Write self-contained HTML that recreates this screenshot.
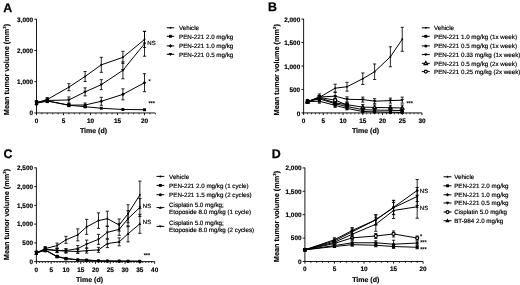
<!DOCTYPE html>
<html><head><meta charset="utf-8"><title>Figure</title>
<style>html,body{margin:0;padding:0;background:#fff}svg{display:block}text{text-rendering:geometricPrecision;font-family:"Liberation Sans",Arial,sans-serif;fill:#000;stroke:#000;stroke-width:0.18px}.b text{font-weight:bold;stroke-width:0.15px}text.L{font-weight:bold;stroke-width:0.25px}</style></head><body>
<svg width="520" height="285" viewBox="0 0 520 285">
<rect width="520" height="285" fill="#fff"/>
<g stroke="#000" stroke-width="0.9" fill="none">
<path d="M36.5 18.9V113.3"/>
<path d="M36.15 112.95H155.3"/>
<path d="M34.3 112.95H36.5"/>
<path d="M34.3 81.7H36.5"/>
<path d="M34.3 50.45H36.5"/>
<path d="M34.3 19.2H36.5"/>
<path d="M36.5 112.95V115.15"/>
<path d="M63.5 112.95V115.15"/>
<path d="M90.5 112.95V115.15"/>
<path d="M117.5 112.95V115.15"/>
<path d="M144.5 112.95V115.15"/>
<path d="M41.9 112.95V114.35M47.3 112.95V114.35M52.7 112.95V114.35M58.1 112.95V114.35M68.9 112.95V114.35M74.3 112.95V114.35M79.7 112.95V114.35M85.1 112.95V114.35M95.9 112.95V114.35M101.3 112.95V114.35M106.7 112.95V114.35M112.1 112.95V114.35M122.9 112.95V114.35M128.3 112.95V114.35M133.7 112.95V114.35M139.1 112.95V114.35M149.9 112.95V114.35M155.3 112.95V114.35" stroke-width="0.8"/>
</g>
<g class="b" font-size="6.4">
<text x="33.1" y="115.25" text-anchor="end">0</text>
<text x="33.1" y="84" text-anchor="end">1,000</text>
<text x="33.1" y="52.75" text-anchor="end">2,000</text>
<text x="33.1" y="21.5" text-anchor="end">3,000</text>
<text x="36.5" y="122.85" text-anchor="middle">0</text>
<text x="63.5" y="122.85" text-anchor="middle">5</text>
<text x="90.5" y="122.85" text-anchor="middle">10</text>
<text x="117.5" y="122.85" text-anchor="middle">15</text>
<text x="144.5" y="122.85" text-anchor="middle">20</text>
<text x="93.5" y="133.25" text-anchor="middle" font-size="7">Time (d)</text>
<text transform="translate(9 69.5) rotate(-90)" text-anchor="middle" font-size="7.3">Mean tumor volume (mm<tspan font-size="4.4" dy="-2.8">3</tspan><tspan dy="2.8">)</tspan></text>
</g>
<text x="3.3" y="11.5" class="L" font-size="12.4">A</text>
<g stroke="#000" stroke-width="1.0" fill="none">
<polyline points="36.5,102.64 47.3,99.51 68.9,87.17 85.1,76.48 101.3,64.83 122.9,57.33 144.5,39.51"/>
<path stroke-width="0.85" d="M36.5 100.64V104.64M34.9 100.64H38.1M34.9 104.64H38.1"/>
<path stroke-width="0.85" d="M47.3 97.51V101.51M45.7 97.51H48.9M45.7 101.51H48.9"/>
<path stroke-width="0.85" d="M68.9 83.67V90.67M67.3 83.67H70.5M67.3 90.67H70.5"/>
<path stroke-width="0.85" d="M85.1 71.48V81.48M83.5 71.48H86.7M83.5 81.48H86.7"/>
<path stroke-width="0.85" d="M101.3 57.33V72.33M99.7 57.33H102.9M99.7 72.33H102.9"/>
<path stroke-width="0.85" d="M122.9 51.33V63.33M121.3 51.33H124.5M121.3 63.33H124.5"/>
<path stroke-width="0.85" d="M144.5 31.51V47.51M142.9 31.51H146.1M142.9 47.51H146.1"/>
</g>
<circle cx="36.5" cy="102.64" r="1" fill="#000"/>
<circle cx="47.3" cy="99.51" r="1" fill="#000"/>
<circle cx="68.9" cy="87.17" r="1" fill="#000"/>
<circle cx="85.1" cy="76.48" r="1" fill="#000"/>
<circle cx="101.3" cy="64.83" r="1" fill="#000"/>
<circle cx="122.9" cy="57.33" r="1" fill="#000"/>
<circle cx="144.5" cy="39.51" r="1" fill="#000"/>
<g stroke="#000" stroke-width="1.0" fill="none">
<polyline points="36.5,102.64 47.3,100.45 68.9,99.98 85.1,91.86 101.3,84.67 122.9,70.29 144.5,43.73"/>
<path stroke-width="0.85" d="M36.5 100.64V104.64M34.9 100.64H38.1M34.9 104.64H38.1"/>
<path stroke-width="0.85" d="M47.3 98.45V102.45M45.7 98.45H48.9M45.7 102.45H48.9"/>
<path stroke-width="0.85" d="M68.9 96.98V102.98M67.3 96.98H70.5M67.3 102.98H70.5"/>
<path stroke-width="0.85" d="M85.1 87.86V95.86M83.5 87.86H86.7M83.5 95.86H86.7"/>
<path stroke-width="0.85" d="M101.3 79.67V89.67M99.7 79.67H102.9M99.7 89.67H102.9"/>
<path stroke-width="0.85" d="M122.9 61.79V78.79M121.3 61.79H124.5M121.3 78.79H124.5"/>
<path stroke-width="0.85" d="M144.5 31.23V56.23M142.9 31.23H146.1M142.9 56.23H146.1"/>
</g>
<path d="M34.7 101.44L38.3 101.44L36.5 104.34Z" fill="#000"/>
<path d="M45.5 99.25L49.1 99.25L47.3 102.15Z" fill="#000"/>
<path d="M67.1 98.78L70.7 98.78L68.9 101.68Z" fill="#000"/>
<path d="M83.3 90.66L86.9 90.66L85.1 93.56Z" fill="#000"/>
<path d="M99.5 83.47L103.1 83.47L101.3 86.37Z" fill="#000"/>
<path d="M121.1 69.09L124.7 69.09L122.9 71.99Z" fill="#000"/>
<path d="M142.7 42.53L146.3 42.53L144.5 45.43Z" fill="#000"/>
<g stroke="#000" stroke-width="1.0" fill="none">
<polyline points="36.5,102.95 47.3,100.76 68.9,105.14 85.1,105.01 101.3,101.29 122.9,94.36 144.5,82.7"/>
<path stroke-width="0.85" d="M36.5 101.45V104.45M34.9 101.45H38.1M34.9 104.45H38.1"/>
<path stroke-width="0.85" d="M47.3 99.26V102.26M45.7 99.26H48.9M45.7 102.26H48.9"/>
<path stroke-width="0.85" d="M68.9 103.64V106.64M67.3 103.64H70.5M67.3 106.64H70.5"/>
<path stroke-width="0.85" d="M85.1 103.01V107.01M83.5 103.01H86.7M83.5 107.01H86.7"/>
<path stroke-width="0.85" d="M101.3 97.29V105.29M99.7 97.29H102.9M99.7 105.29H102.9"/>
<path stroke-width="0.85" d="M122.9 88.86V99.86M121.3 88.86H124.5M121.3 99.86H124.5"/>
<path stroke-width="0.85" d="M144.5 73.7V91.7M142.9 73.7H146.1M142.9 91.7H146.1"/>
</g>
<path d="M36.5 101.15L38.3 102.95L36.5 104.75L34.7 102.95Z" fill="#000"/>
<path d="M47.3 98.96L49.1 100.76L47.3 102.56L45.5 100.76Z" fill="#000"/>
<path d="M68.9 103.34L70.7 105.14L68.9 106.94L67.1 105.14Z" fill="#000"/>
<path d="M85.1 103.21L86.9 105.01L85.1 106.81L83.3 105.01Z" fill="#000"/>
<path d="M101.3 99.49L103.1 101.29L101.3 103.09L99.5 101.29Z" fill="#000"/>
<path d="M122.9 92.56L124.7 94.36L122.9 96.16L121.1 94.36Z" fill="#000"/>
<path d="M144.5 80.9L146.3 82.7L144.5 84.5L142.7 82.7Z" fill="#000"/>
<g stroke="#000" stroke-width="1.0" fill="none">
<polyline points="36.5,103.26 47.3,101.08 68.9,105.26 85.1,106.7 101.3,108.26 122.9,109.48 144.5,109.73"/>
<path stroke-width="0.85" d="M36.5 101.76V104.76M34.9 101.76H38.1M34.9 104.76H38.1"/>
<path stroke-width="0.85" d="M47.3 99.58V102.58M45.7 99.58H48.9M45.7 102.58H48.9"/>
<path stroke-width="0.85" d="M68.9 104.26V106.26M67.3 104.26H70.5M67.3 106.26H70.5"/>
<path stroke-width="0.85" d="M85.1 105.7V107.7M83.5 105.7H86.7M83.5 107.7H86.7"/>
</g>
<rect x="35.05" y="101.81" width="2.9" height="2.9" fill="#000"/>
<rect x="45.85" y="99.62" width="2.9" height="2.9" fill="#000"/>
<rect x="67.45" y="103.81" width="2.9" height="2.9" fill="#000"/>
<rect x="83.65" y="105.25" width="2.9" height="2.9" fill="#000"/>
<rect x="99.85" y="106.81" width="2.9" height="2.9" fill="#000"/>
<rect x="121.45" y="108.03" width="2.9" height="2.9" fill="#000"/>
<rect x="143.05" y="108.28" width="2.9" height="2.9" fill="#000"/>
<path d="M166.7 27.8H174.2" stroke="#000" stroke-width="1.0"/>
<circle cx="170.45" cy="27.8" r="1" fill="#000"/>
<text x="179" y="30" font-size="6.22">Vehicle</text>
<path d="M166.7 36.3H174.2" stroke="#000" stroke-width="1.0"/>
<rect x="169" y="34.85" width="2.9" height="2.9" fill="#000"/>
<text x="179" y="38.5" font-size="6.22">PEN-221 2.0 mg/kg</text>
<path d="M166.7 45.9H174.2" stroke="#000" stroke-width="1.0"/>
<path d="M170.45 44.1L172.25 45.9L170.45 47.7L168.65 45.9Z" fill="#000"/>
<text x="179" y="48.1" font-size="6.22">PEN-221 1.0 mg/kg</text>
<path d="M166.7 54.3H174.2" stroke="#000" stroke-width="1.0"/>
<path d="M168.65 53.1L172.25 53.1L170.45 56Z" fill="#000"/>
<text x="179" y="56.5" font-size="6.22">PEN-221 0.5 mg/kg</text>
<text x="147.3" y="44.8" font-size="6">NS</text>
<text x="148.5" y="83" font-size="5.5">*</text>
<text x="148.4" y="104.8" font-size="5.5">***</text>
<g stroke="#000" stroke-width="0.9" fill="none">
<path d="M303.6 18.8V113.25"/>
<path d="M303.25 112.9H421.95"/>
<path d="M301.4 112.9H303.6"/>
<path d="M301.4 89.45H303.6"/>
<path d="M301.4 66H303.6"/>
<path d="M301.4 42.55H303.6"/>
<path d="M301.4 19.1H303.6"/>
<path d="M303.6 112.9V115.1"/>
<path d="M323.33 112.9V115.1"/>
<path d="M343.05 112.9V115.1"/>
<path d="M362.78 112.9V115.1"/>
<path d="M382.5 112.9V115.1"/>
<path d="M402.23 112.9V115.1"/>
<path d="M421.95 112.9V115.1"/>
<path d="M307.55 112.9V114.3M311.49 112.9V114.3M315.44 112.9V114.3M319.38 112.9V114.3M327.27 112.9V114.3M331.22 112.9V114.3M335.16 112.9V114.3M339.11 112.9V114.3M347 112.9V114.3M350.94 112.9V114.3M354.88 112.9V114.3M358.83 112.9V114.3M366.72 112.9V114.3M370.67 112.9V114.3M374.61 112.9V114.3M378.56 112.9V114.3M386.45 112.9V114.3M390.39 112.9V114.3M394.34 112.9V114.3M398.28 112.9V114.3M406.17 112.9V114.3M410.12 112.9V114.3M414.06 112.9V114.3M418 112.9V114.3" stroke-width="0.8"/>
</g>
<g class="b" font-size="6.4">
<text x="300.2" y="115.5" text-anchor="end">0</text>
<text x="300.2" y="92.05" text-anchor="end">500</text>
<text x="300.2" y="68.6" text-anchor="end">1,000</text>
<text x="300.2" y="45.15" text-anchor="end">1,500</text>
<text x="300.2" y="21.7" text-anchor="end">2,000</text>
<text x="303.6" y="122.8" text-anchor="middle">0</text>
<text x="323.33" y="122.8" text-anchor="middle">5</text>
<text x="343.05" y="122.8" text-anchor="middle">10</text>
<text x="362.78" y="122.8" text-anchor="middle">15</text>
<text x="382.5" y="122.8" text-anchor="middle">20</text>
<text x="402.23" y="122.8" text-anchor="middle">25</text>
<text x="421.95" y="122.8" text-anchor="middle">30</text>
<text x="365.5" y="133.2" text-anchor="middle" font-size="7">Time (d)</text>
<text transform="translate(279 69.8) rotate(-90)" text-anchor="middle" font-size="7.3">Mean tumor volume (mm<tspan font-size="4.4" dy="-2.8">3</tspan><tspan dy="2.8">)</tspan></text>
</g>
<text x="268.1" y="11.2" class="L" font-size="12.4">B</text>
<g stroke="#000" stroke-width="1.0" fill="none">
<polyline points="307.55,101.64 319.38,97.42 335.16,88.18 347,86.73 362.78,78.71 374.61,71.72 390.39,56.76 402.23,39.31"/>
<path stroke-width="0.85" d="M307.55 100.14V103.14M305.94 100.14H309.15M305.94 103.14H309.15"/>
<path stroke-width="0.85" d="M319.38 95.42V99.42M317.78 95.42H320.98M317.78 99.42H320.98"/>
<path stroke-width="0.85" d="M335.16 84.18V92.18M333.56 84.18H336.76M333.56 92.18H336.76"/>
<path stroke-width="0.85" d="M347 82.33V91.13M345.39 82.33H348.6M345.39 91.13H348.6"/>
<path stroke-width="0.85" d="M362.78 72.96V84.46M361.18 72.96H364.38M361.18 84.46H364.38"/>
<path stroke-width="0.85" d="M374.61 63.97V79.47M373.01 63.97H376.21M373.01 79.47H376.21"/>
<path stroke-width="0.85" d="M390.39 46.76V66.76M388.79 46.76H391.99M388.79 66.76H391.99"/>
<path stroke-width="0.85" d="M402.23 27.31V51.31M400.62 27.31H403.83M400.62 51.31H403.83"/>
</g>
<circle cx="307.55" cy="101.64" r="1" fill="#000"/>
<circle cx="319.38" cy="97.42" r="1" fill="#000"/>
<circle cx="335.16" cy="88.18" r="1" fill="#000"/>
<circle cx="347" cy="86.73" r="1" fill="#000"/>
<circle cx="362.78" cy="78.71" r="1" fill="#000"/>
<circle cx="374.61" cy="71.72" r="1" fill="#000"/>
<circle cx="390.39" cy="56.76" r="1" fill="#000"/>
<circle cx="402.23" cy="39.31" r="1" fill="#000"/>
<g stroke="#000" stroke-width="1.0" fill="none">
<polyline points="307.55,101.64 319.38,96.95 335.16,96.2 347,99.3 362.78,99.58 374.61,101.18 390.39,100.61 402.23,100.14"/>
<path stroke-width="0.85" d="M307.55 100.14V103.14M305.94 100.14H309.15M305.94 103.14H309.15"/>
<path stroke-width="0.85" d="M319.38 93.95V99.95M317.78 93.95H320.98M317.78 99.95H320.98"/>
<path stroke-width="0.85" d="M335.16 92.2V100.2M333.56 92.2H336.76M333.56 100.2H336.76"/>
<path stroke-width="0.85" d="M347 96.8V101.8M345.39 96.8H348.6M345.39 101.8H348.6"/>
<path stroke-width="0.85" d="M362.78 97.08V102.08M361.18 97.08H364.38M361.18 102.08H364.38"/>
<path stroke-width="0.85" d="M374.61 98.68V103.68M373.01 98.68H376.21M373.01 103.68H376.21"/>
<path stroke-width="0.85" d="M390.39 98.11V103.11M388.79 98.11H391.99M388.79 103.11H391.99"/>
<path stroke-width="0.85" d="M402.23 97.14V103.14M400.62 97.14H403.83M400.62 103.14H403.83"/>
</g>
<path d="M305.75 100.44L309.35 100.44L307.55 103.34Z" fill="#000"/>
<path d="M317.58 95.75L321.18 95.75L319.38 98.65Z" fill="#000"/>
<path d="M333.36 95L336.96 95L335.16 97.9Z" fill="#000"/>
<path d="M345.19 98.1L348.8 98.1L347 101Z" fill="#000"/>
<path d="M360.98 98.38L364.58 98.38L362.78 101.28Z" fill="#000"/>
<path d="M372.81 99.98L376.41 99.98L374.61 102.88Z" fill="#000"/>
<path d="M388.59 99.41L392.19 99.41L390.39 102.31Z" fill="#000"/>
<path d="M400.43 98.94L404.03 98.94L402.23 101.84Z" fill="#000"/>
<g stroke="#000" stroke-width="1.0" fill="none">
<polyline points="307.55,101.64 319.38,97.42 335.16,100.19 347,104.93"/>
<path stroke-width="0.85" d="M307.55 100.14V103.14M305.94 100.14H309.15M305.94 103.14H309.15"/>
<path stroke-width="0.85" d="M319.38 95.42V99.42M317.78 95.42H320.98M317.78 99.42H320.98"/>
<path stroke-width="0.85" d="M335.16 98.19V102.19M333.56 98.19H336.76M333.56 102.19H336.76"/>
<path stroke-width="0.85" d="M347 103.43V106.43M345.39 103.43H348.6M345.39 106.43H348.6"/>
</g>
<circle cx="307.55" cy="101.64" r="1.5" fill="#fff" stroke="#000" stroke-width="1.25"/>
<circle cx="319.38" cy="97.42" r="1.5" fill="#fff" stroke="#000" stroke-width="1.25"/>
<circle cx="335.16" cy="100.19" r="1.5" fill="#fff" stroke="#000" stroke-width="1.25"/>
<circle cx="347" cy="104.93" r="1.5" fill="#fff" stroke="#000" stroke-width="1.25"/>
<g stroke="#000" stroke-width="1.0" fill="none">
<polyline points="307.55,101.64 319.38,97.89 335.16,102.82 347,104.69 362.78,107.13 374.61,107.41 390.39,107.74 402.23,107.98"/>
<path stroke-width="0.85" d="M307.55 100.14V103.14M305.94 100.14H309.15M305.94 103.14H309.15"/>
<path stroke-width="0.85" d="M319.38 95.89V99.89M317.78 95.89H320.98M317.78 99.89H320.98"/>
<path stroke-width="0.85" d="M335.16 100.82V104.82M333.56 100.82H336.76M333.56 104.82H336.76"/>
<path stroke-width="0.85" d="M347 102.69V106.69M345.39 102.69H348.6M345.39 106.69H348.6"/>
<path stroke-width="0.85" d="M362.78 104.63V109.63M361.18 104.63H364.38M361.18 109.63H364.38"/>
<path stroke-width="0.85" d="M374.61 104.91V109.91M373.01 104.91H376.21M373.01 109.91H376.21"/>
<path stroke-width="0.85" d="M390.39 105.24V110.24M388.79 105.24H391.99M388.79 110.24H391.99"/>
<path stroke-width="0.85" d="M402.23 104.98V110.98M400.62 104.98H403.83M400.62 110.98H403.83"/>
</g>
<path d="M305.85 102.89L309.25 102.89L307.55 99.89Z" fill="#fff" stroke="#000" stroke-width="1.25" stroke-linejoin="miter"/>
<path d="M317.68 99.14L321.08 99.14L319.38 96.14Z" fill="#fff" stroke="#000" stroke-width="1.25" stroke-linejoin="miter"/>
<path d="M333.46 104.07L336.86 104.07L335.16 101.07Z" fill="#fff" stroke="#000" stroke-width="1.25" stroke-linejoin="miter"/>
<path d="M345.3 105.94L348.69 105.94L347 102.94Z" fill="#fff" stroke="#000" stroke-width="1.25" stroke-linejoin="miter"/>
<path d="M361.08 108.38L364.48 108.38L362.78 105.38Z" fill="#fff" stroke="#000" stroke-width="1.25" stroke-linejoin="miter"/>
<path d="M372.91 108.66L376.31 108.66L374.61 105.66Z" fill="#fff" stroke="#000" stroke-width="1.25" stroke-linejoin="miter"/>
<path d="M388.69 108.99L392.09 108.99L390.39 105.99Z" fill="#fff" stroke="#000" stroke-width="1.25" stroke-linejoin="miter"/>
<path d="M400.53 109.23L403.93 109.23L402.23 106.23Z" fill="#fff" stroke="#000" stroke-width="1.25" stroke-linejoin="miter"/>
<g stroke="#000" stroke-width="1.0" fill="none">
<polyline points="307.55,101.64 319.38,98.83 335.16,103.75 347,106.52 362.78,109.66 374.61,110.09 390.39,110.32 402.23,110.56"/>
<path stroke-width="0.85" d="M307.55 100.14V103.14M305.94 100.14H309.15M305.94 103.14H309.15"/>
<path stroke-width="0.85" d="M319.38 96.83V100.83M317.78 96.83H320.98M317.78 100.83H320.98"/>
<path stroke-width="0.85" d="M335.16 101.75V105.75M333.56 101.75H336.76M333.56 105.75H336.76"/>
<path stroke-width="0.85" d="M347 105.02V108.02M345.39 105.02H348.6M345.39 108.02H348.6"/>
<path stroke-width="0.85" d="M362.78 108.16V111.16M361.18 108.16H364.38M361.18 111.16H364.38"/>
<path stroke-width="0.85" d="M374.61 109.09V111.09M373.01 109.09H376.21M373.01 111.09H376.21"/>
<path stroke-width="0.85" d="M390.39 109.32V111.32M388.79 109.32H391.99M388.79 111.32H391.99"/>
<path stroke-width="0.85" d="M402.23 109.56V111.56M400.62 109.56H403.83M400.62 111.56H403.83"/>
</g>
<circle cx="307.55" cy="101.64" r="1.5" fill="#000"/>
<circle cx="319.38" cy="98.83" r="1.5" fill="#000"/>
<circle cx="335.16" cy="103.75" r="1.5" fill="#000"/>
<circle cx="347" cy="106.52" r="1.5" fill="#000"/>
<circle cx="362.78" cy="109.66" r="1.5" fill="#000"/>
<circle cx="374.61" cy="110.09" r="1.5" fill="#000"/>
<circle cx="390.39" cy="110.32" r="1.5" fill="#000"/>
<circle cx="402.23" cy="110.56" r="1.5" fill="#000"/>
<g stroke="#000" stroke-width="1.0" fill="none">
<polyline points="307.55,101.64 319.38,101.18 335.16,105.4 347,108.4 362.78,111.49 374.61,111.87 390.39,112.2 402.23,112.43"/>
<path stroke-width="0.85" d="M307.55 100.14V103.14M305.94 100.14H309.15M305.94 103.14H309.15"/>
<path stroke-width="0.85" d="M319.38 99.18V103.18M317.78 99.18H320.98M317.78 103.18H320.98"/>
<path stroke-width="0.85" d="M335.16 103.4V107.4M333.56 103.4H336.76M333.56 107.4H336.76"/>
<path stroke-width="0.85" d="M347 106.9V109.9M345.39 106.9H348.6M345.39 109.9H348.6"/>
<path stroke-width="0.85" d="M362.78 109.99V112.99M361.18 109.99H364.38M361.18 112.99H364.38"/>
<path stroke-width="0.85" d="M374.61 110.87V112.87M373.01 110.87H376.21M373.01 112.87H376.21"/>
<path stroke-width="0.85" d="M390.39 111.2V113.2M388.79 111.2H391.99M388.79 113.2H391.99"/>
<path stroke-width="0.85" d="M402.23 111.43V113.43M400.62 111.43H403.83M400.62 113.43H403.83"/>
</g>
<rect x="306.1" y="100.19" width="2.9" height="2.9" fill="#000"/>
<rect x="317.93" y="99.73" width="2.9" height="2.9" fill="#000"/>
<rect x="333.71" y="103.95" width="2.9" height="2.9" fill="#000"/>
<rect x="345.55" y="106.95" width="2.9" height="2.9" fill="#000"/>
<rect x="361.33" y="110.04" width="2.9" height="2.9" fill="#000"/>
<rect x="373.16" y="110.42" width="2.9" height="2.9" fill="#000"/>
<rect x="388.94" y="110.75" width="2.9" height="2.9" fill="#000"/>
<rect x="400.78" y="110.98" width="2.9" height="2.9" fill="#000"/>
<g stroke="#000" stroke-width="1.0" fill="none">
<polyline points="335.16,100.19"/>
</g>
<circle cx="335.16" cy="100.19" r="1.5" fill="#fff" stroke="#000" stroke-width="1.25"/>
<path d="M421.8 27.8H429.8" stroke="#000" stroke-width="1.0"/>
<circle cx="425.8" cy="27.8" r="1" fill="#000"/>
<text x="434" y="30" font-size="6.22">Vehicle</text>
<path d="M421.8 36.3H429.8" stroke="#000" stroke-width="1.0"/>
<rect x="424.35" y="34.85" width="2.9" height="2.9" fill="#000"/>
<text x="434" y="38.5" font-size="6.22">PEN-221 1.0 mg/kg (1x week)</text>
<path d="M421.8 45.9H429.8" stroke="#000" stroke-width="1.0"/>
<circle cx="425.8" cy="45.9" r="1.5" fill="#000"/>
<text x="434" y="48.1" font-size="6.22">PEN-221 0.5 mg/kg (1x week)</text>
<path d="M421.8 54.6H429.8" stroke="#000" stroke-width="1.0"/>
<path d="M424.18 53.52L427.42 53.52L425.8 56.13Z" fill="#000"/>
<text x="434" y="56.8" font-size="6.22">PEN-221 0.33 mg/kg (1x week)</text>
<path d="M421.8 63.3H429.8" stroke="#000" stroke-width="1.0"/>
<path d="M424.1 64.55L427.5 64.55L425.8 61.55Z" fill="#fff" stroke="#000" stroke-width="1.25" stroke-linejoin="miter"/>
<text x="434" y="65.5" font-size="6.22">PEN-221 0.5 mg/kg (2x week)</text>
<path d="M421.8 71.6H429.8" stroke="#000" stroke-width="1.0"/>
<circle cx="425.8" cy="71.6" r="1.5" fill="#fff" stroke="#000" stroke-width="1.25"/>
<text x="434" y="73.8" font-size="6.22">PEN-221 0.25 mg/kg (2x week)</text>
<text x="406.4" y="104.9" font-size="5.5">***</text>
<g stroke="#000" stroke-width="0.9" fill="none">
<path d="M36.4 167.55V261.95"/>
<path d="M36.05 261.6H154.64"/>
<path d="M34.2 261.6H36.4"/>
<path d="M34.2 242.85H36.4"/>
<path d="M34.2 224.1H36.4"/>
<path d="M34.2 205.35H36.4"/>
<path d="M34.2 186.6H36.4"/>
<path d="M34.2 167.85H36.4"/>
<path d="M36.4 261.6V263.8"/>
<path d="M51.18 261.6V263.8"/>
<path d="M65.96 261.6V263.8"/>
<path d="M80.74 261.6V263.8"/>
<path d="M95.52 261.6V263.8"/>
<path d="M110.3 261.6V263.8"/>
<path d="M125.08 261.6V263.8"/>
<path d="M139.86 261.6V263.8"/>
<path d="M154.64 261.6V263.8"/>
<path d="M39.36 261.6V263M42.31 261.6V263M45.27 261.6V263M48.22 261.6V263M54.14 261.6V263M57.09 261.6V263M60.05 261.6V263M63 261.6V263M68.92 261.6V263M71.87 261.6V263M74.83 261.6V263M77.78 261.6V263M83.7 261.6V263M86.65 261.6V263M89.61 261.6V263M92.56 261.6V263M98.48 261.6V263M101.43 261.6V263M104.39 261.6V263M107.34 261.6V263M113.26 261.6V263M116.21 261.6V263M119.17 261.6V263M122.12 261.6V263M128.04 261.6V263M130.99 261.6V263M133.95 261.6V263M136.9 261.6V263M142.82 261.6V263M145.77 261.6V263M148.73 261.6V263M151.68 261.6V263" stroke-width="0.8"/>
</g>
<g class="b" font-size="6.4">
<text x="33" y="263.9" text-anchor="end">0</text>
<text x="33" y="245.15" text-anchor="end">500</text>
<text x="33" y="226.4" text-anchor="end">1,000</text>
<text x="33" y="207.65" text-anchor="end">1,500</text>
<text x="33" y="188.9" text-anchor="end">2,000</text>
<text x="33" y="170.15" text-anchor="end">2,500</text>
<text x="36.4" y="271.5" text-anchor="middle">0</text>
<text x="51.18" y="271.5" text-anchor="middle">5</text>
<text x="65.96" y="271.5" text-anchor="middle">10</text>
<text x="80.74" y="271.5" text-anchor="middle">15</text>
<text x="95.52" y="271.5" text-anchor="middle">20</text>
<text x="110.3" y="271.5" text-anchor="middle">25</text>
<text x="125.08" y="271.5" text-anchor="middle">30</text>
<text x="139.86" y="271.5" text-anchor="middle">35</text>
<text x="154.64" y="271.5" text-anchor="middle">40</text>
<text x="89.5" y="281.9" text-anchor="middle" font-size="7">Time (d)</text>
<text transform="translate(9 214.5) rotate(-90)" text-anchor="middle" font-size="7.3">Mean tumor volume (mm<tspan font-size="4.4" dy="-2.8">3</tspan><tspan dy="2.8">)</tspan></text>
</g>
<text x="3.4" y="157.7" class="L" font-size="12.4">C</text>
<g stroke="#000" stroke-width="1.0" fill="none">
<polyline points="36.4,252.86 45.27,248.59 57.09,245.59 65.96,239.85 77.78,234.86 86.65,226.84 98.48,220.61 107.34,218.66 119.17,225.04 128.04,213.75 139.86,194.85"/>
<path stroke-width="0.85" d="M36.4 251.36V254.36M34.8 251.36H38M34.8 254.36H38"/>
<path stroke-width="0.85" d="M45.27 246.59V250.59M43.67 246.59H46.87M43.67 250.59H46.87"/>
<path stroke-width="0.85" d="M57.09 243.09V248.09M55.49 243.09H58.69M55.49 248.09H58.69"/>
<path stroke-width="0.85" d="M65.96 236.35V243.35M64.36 236.35H67.56M64.36 243.35H67.56"/>
<path stroke-width="0.85" d="M77.78 228.86V240.86M76.18 228.86H79.38M76.18 240.86H79.38"/>
<path stroke-width="0.85" d="M86.65 219.34V234.34M85.05 219.34H88.25M85.05 234.34H88.25"/>
<path stroke-width="0.85" d="M98.48 212.86V228.36M96.88 212.86H100.08M96.88 228.36H100.08"/>
<path stroke-width="0.85" d="M107.34 211.16V226.16M105.74 211.16H108.94M105.74 226.16H108.94"/>
<path stroke-width="0.85" d="M119.17 219.04V231.04M117.57 219.04H120.77M117.57 231.04H120.77"/>
<path stroke-width="0.85" d="M128.04 204.75V222.75M126.44 204.75H129.64M126.44 222.75H129.64"/>
<path stroke-width="0.85" d="M139.86 181.1V208.6M138.26 181.1H141.46M138.26 208.6H141.46"/>
</g>
<circle cx="36.4" cy="252.86" r="1" fill="#000"/>
<circle cx="45.27" cy="248.59" r="1" fill="#000"/>
<circle cx="57.09" cy="245.59" r="1" fill="#000"/>
<circle cx="65.96" cy="239.85" r="1" fill="#000"/>
<circle cx="77.78" cy="234.86" r="1" fill="#000"/>
<circle cx="86.65" cy="226.84" r="1" fill="#000"/>
<circle cx="98.48" cy="220.61" r="1" fill="#000"/>
<circle cx="107.34" cy="218.66" r="1" fill="#000"/>
<circle cx="119.17" cy="225.04" r="1" fill="#000"/>
<circle cx="128.04" cy="213.75" r="1" fill="#000"/>
<circle cx="139.86" cy="194.85" r="1" fill="#000"/>
<g stroke="#000" stroke-width="1.0" fill="none">
<polyline points="36.4,252.86 45.27,249.23 57.09,250.35 65.96,250.61 77.78,248.59 86.65,244.09 98.48,239.36 107.34,232.35 119.17,229.35 128.04,218.66 139.86,207.45"/>
<path stroke-width="0.85" d="M36.4 251.36V254.36M34.8 251.36H38M34.8 254.36H38"/>
<path stroke-width="0.85" d="M45.27 247.23V251.23M43.67 247.23H46.87M43.67 251.23H46.87"/>
<path stroke-width="0.85" d="M57.09 248.35V252.35M55.49 248.35H58.69M55.49 252.35H58.69"/>
<path stroke-width="0.85" d="M65.96 248.61V252.61M64.36 248.61H67.56M64.36 252.61H67.56"/>
<path stroke-width="0.85" d="M77.78 245.59V251.59M76.18 245.59H79.38M76.18 251.59H79.38"/>
<path stroke-width="0.85" d="M86.65 240.09V248.09M85.05 240.09H88.25M85.05 248.09H88.25"/>
<path stroke-width="0.85" d="M98.48 234.36V244.36M96.88 234.36H100.08M96.88 244.36H100.08"/>
<path stroke-width="0.85" d="M107.34 226.35V238.35M105.74 226.35H108.94M105.74 238.35H108.94"/>
<path stroke-width="0.85" d="M119.17 223.35V235.35M117.57 223.35H120.77M117.57 235.35H120.77"/>
<path stroke-width="0.85" d="M128.04 210.66V226.66M126.44 210.66H129.64M126.44 226.66H129.64"/>
<path stroke-width="0.85" d="M139.86 198.45V216.45M138.26 198.45H141.46M138.26 216.45H141.46"/>
</g>
<path d="M34.96 251.9L37.84 251.9L36.4 254.22Z" fill="#000"/>
<path d="M43.83 248.27L46.71 248.27L45.27 250.59Z" fill="#000"/>
<path d="M55.65 249.39L58.53 249.39L57.09 251.71Z" fill="#000"/>
<path d="M64.52 249.65L67.4 249.65L65.96 251.97Z" fill="#000"/>
<path d="M76.34 247.63L79.22 247.63L77.78 249.95Z" fill="#000"/>
<path d="M85.21 243.13L88.09 243.13L86.65 245.45Z" fill="#000"/>
<path d="M97.04 238.4L99.92 238.4L98.48 240.72Z" fill="#000"/>
<path d="M105.9 231.39L108.78 231.39L107.34 233.71Z" fill="#000"/>
<path d="M117.73 228.39L120.61 228.39L119.17 230.71Z" fill="#000"/>
<path d="M126.6 217.7L129.48 217.7L128.04 220.02Z" fill="#000"/>
<path d="M138.42 206.49L141.3 206.49L139.86 208.81Z" fill="#000"/>
<g stroke="#000" stroke-width="1.0" fill="none">
<polyline points="36.4,252.86 45.27,249.6 57.09,250.61 65.96,251.1 77.78,251.48 86.65,250.61 98.48,249.86 107.34,243.6 119.17,241.84 128.04,233.85 139.86,223.84"/>
<path stroke-width="0.85" d="M36.4 251.36V254.36M34.8 251.36H38M34.8 254.36H38"/>
<path stroke-width="0.85" d="M45.27 247.6V251.6M43.67 247.6H46.87M43.67 251.6H46.87"/>
<path stroke-width="0.85" d="M57.09 248.61V252.61M55.49 248.61H58.69M55.49 252.61H58.69"/>
<path stroke-width="0.85" d="M65.96 249.1V253.1M64.36 249.1H67.56M64.36 253.1H67.56"/>
<path stroke-width="0.85" d="M77.78 249.48V253.48M76.18 249.48H79.38M76.18 253.48H79.38"/>
<path stroke-width="0.85" d="M86.65 248.11V253.11M85.05 248.11H88.25M85.05 253.11H88.25"/>
<path stroke-width="0.85" d="M98.48 247.36V252.36M96.88 247.36H100.08M96.88 252.36H100.08"/>
<path stroke-width="0.85" d="M107.34 239.6V247.6M105.74 239.6H108.94M105.74 247.6H108.94"/>
<path stroke-width="0.85" d="M119.17 237.84V245.84M117.57 237.84H120.77M117.57 245.84H120.77"/>
<path stroke-width="0.85" d="M128.04 225.85V241.85M126.44 225.85H129.64M126.44 241.85H129.64"/>
<path stroke-width="0.85" d="M139.86 214.34V233.34M138.26 214.34H141.46M138.26 233.34H141.46"/>
</g>
<path d="M34.86 253.91L37.94 253.91L36.4 251.39Z" fill="#000"/>
<path d="M43.73 250.65L46.81 250.65L45.27 248.13Z" fill="#000"/>
<path d="M55.55 251.66L58.63 251.66L57.09 249.14Z" fill="#000"/>
<path d="M64.42 252.15L67.5 252.15L65.96 249.63Z" fill="#000"/>
<path d="M76.24 252.53L79.32 252.53L77.78 250.01Z" fill="#000"/>
<path d="M85.11 251.66L88.19 251.66L86.65 249.14Z" fill="#000"/>
<path d="M96.94 250.91L100.02 250.91L98.48 248.39Z" fill="#000"/>
<path d="M105.8 244.65L108.88 244.65L107.34 242.13Z" fill="#000"/>
<path d="M117.63 242.89L120.71 242.89L119.17 240.37Z" fill="#000"/>
<path d="M126.5 234.9L129.58 234.9L128.04 232.38Z" fill="#000"/>
<path d="M138.32 224.89L141.4 224.89L139.86 222.37Z" fill="#000"/>
<g stroke="#000" stroke-width="1.0" fill="none">
<polyline points="36.4,252.86 45.27,249.98 57.09,256.35 65.96,258.41 77.78,259.73 86.65,260.03 98.48,260.78 107.34,260.93 119.17,261.08 128.04,261.15 139.86,261.23"/>
<path stroke-width="0.85" d="M36.4 251.36V254.36M34.8 251.36H38M34.8 254.36H38"/>
<path stroke-width="0.85" d="M45.27 248.48V251.48M43.67 248.48H46.87M43.67 251.48H46.87"/>
<path stroke-width="0.85" d="M57.09 255.35V257.35M55.49 255.35H58.69M55.49 257.35H58.69"/>
<path stroke-width="0.85" d="M65.96 257.41V259.41M64.36 257.41H67.56M64.36 259.41H67.56"/>
</g>
<circle cx="36.4" cy="252.86" r="1.5" fill="#000"/>
<circle cx="45.27" cy="249.98" r="1.5" fill="#000"/>
<circle cx="57.09" cy="256.35" r="1.5" fill="#000"/>
<circle cx="65.96" cy="258.41" r="1.5" fill="#000"/>
<circle cx="77.78" cy="259.73" r="1.5" fill="#000"/>
<circle cx="86.65" cy="260.03" r="1.5" fill="#000"/>
<circle cx="98.48" cy="260.78" r="1.5" fill="#000"/>
<circle cx="107.34" cy="260.93" r="1.5" fill="#000"/>
<circle cx="119.17" cy="261.08" r="1.5" fill="#000"/>
<circle cx="128.04" cy="261.15" r="1.5" fill="#000"/>
<circle cx="139.86" cy="261.23" r="1.5" fill="#000"/>
<g stroke="#000" stroke-width="1.0" fill="none">
<polyline points="36.4,252.86 45.27,250.35 57.09,256.73 65.96,258.79 77.78,259.91 86.65,260.18 98.48,260.85 107.34,261.04 119.17,261.15 128.04,261.23 139.86,261.3"/>
<path stroke-width="0.85" d="M36.4 251.36V254.36M34.8 251.36H38M34.8 254.36H38"/>
<path stroke-width="0.85" d="M45.27 248.85V251.85M43.67 248.85H46.87M43.67 251.85H46.87"/>
<path stroke-width="0.85" d="M57.09 255.73V257.73M55.49 255.73H58.69M55.49 257.73H58.69"/>
<path stroke-width="0.85" d="M65.96 257.79V259.79M64.36 257.79H67.56M64.36 259.79H67.56"/>
</g>
<rect x="34.95" y="251.41" width="2.9" height="2.9" fill="#000"/>
<rect x="43.82" y="248.9" width="2.9" height="2.9" fill="#000"/>
<rect x="55.64" y="255.28" width="2.9" height="2.9" fill="#000"/>
<rect x="64.51" y="257.34" width="2.9" height="2.9" fill="#000"/>
<rect x="76.33" y="258.46" width="2.9" height="2.9" fill="#000"/>
<rect x="85.2" y="258.73" width="2.9" height="2.9" fill="#000"/>
<rect x="97.03" y="259.4" width="2.9" height="2.9" fill="#000"/>
<rect x="105.89" y="259.59" width="2.9" height="2.9" fill="#000"/>
<rect x="117.72" y="259.7" width="2.9" height="2.9" fill="#000"/>
<rect x="126.59" y="259.78" width="2.9" height="2.9" fill="#000"/>
<rect x="138.41" y="259.85" width="2.9" height="2.9" fill="#000"/>
<path d="M156.5 176.4H164.3" stroke="#000" stroke-width="1.0"/>
<circle cx="160.4" cy="176.4" r="1" fill="#000"/>
<text x="169.1" y="178.6" font-size="6.22">Vehicle</text>
<path d="M156.5 185.4H164.3" stroke="#000" stroke-width="1.0"/>
<rect x="158.95" y="183.95" width="2.9" height="2.9" fill="#000"/>
<text x="169.1" y="187.6" font-size="6.22">PEN-221 2.0 mg/kg (1 cycle)</text>
<path d="M156.5 194.7H164.3" stroke="#000" stroke-width="1.0"/>
<circle cx="160.4" cy="194.7" r="1.5" fill="#000"/>
<text x="169.1" y="196.9" font-size="6.22">PEN-221 1.5 mg/kg (2 cycles)</text>
<path d="M156.5 207.6H164.3" stroke="#000" stroke-width="1.0"/>
<path d="M158.86 208.65L161.94 208.65L160.4 206.13Z" fill="#000"/>
<text x="169.1" y="206.6" font-size="6.22">Cisplatin 5.0 mg/kg;</text>
<text x="169.1" y="213.7" font-size="6.22">Etoposide 8.0 mg/kg (1 cycle)</text>
<path d="M156.5 226.4H164.3" stroke="#000" stroke-width="1.0"/>
<path d="M158.96 225.44L161.84 225.44L160.4 227.76Z" fill="#000"/>
<text x="169.1" y="224.7" font-size="6.22">Cisplatin 5.0 mg/kg;</text>
<text x="169.1" y="231.5" font-size="6.22">Etoposide 8.0 mg/kg (2 cycles)</text>
<text x="142.8" y="207.8" font-size="6">NS</text>
<text x="142.8" y="224.2" font-size="6">NS</text>
<text x="143.7" y="256.5" font-size="5.5">***</text>
<g stroke="#000" stroke-width="0.9" fill="none">
<path d="M304.9 167.6V261.85"/>
<path d="M304.55 261.5H423.1"/>
<path d="M302.7 261.5H304.9"/>
<path d="M302.7 238.1H304.9"/>
<path d="M302.7 214.7H304.9"/>
<path d="M302.7 191.3H304.9"/>
<path d="M302.7 167.9H304.9"/>
<path d="M304.9 261.5V263.7"/>
<path d="M334.45 261.5V263.7"/>
<path d="M364 261.5V263.7"/>
<path d="M393.55 261.5V263.7"/>
<path d="M423.1 261.5V263.7"/>
<path d="M310.81 261.5V262.9M316.72 261.5V262.9M322.63 261.5V262.9M328.54 261.5V262.9M340.36 261.5V262.9M346.27 261.5V262.9M352.18 261.5V262.9M358.09 261.5V262.9M369.91 261.5V262.9M375.82 261.5V262.9M381.73 261.5V262.9M387.64 261.5V262.9M399.46 261.5V262.9M405.37 261.5V262.9M411.28 261.5V262.9M417.19 261.5V262.9" stroke-width="0.8"/>
</g>
<g class="b" font-size="6.4">
<text x="301.5" y="263.8" text-anchor="end">0</text>
<text x="301.5" y="240.4" text-anchor="end">500</text>
<text x="301.5" y="217" text-anchor="end">1,000</text>
<text x="301.5" y="193.6" text-anchor="end">1,500</text>
<text x="301.5" y="170.2" text-anchor="end">2,000</text>
<text x="304.9" y="270.8" text-anchor="middle">0</text>
<text x="334.45" y="270.8" text-anchor="middle">5</text>
<text x="364" y="270.8" text-anchor="middle">10</text>
<text x="393.55" y="270.8" text-anchor="middle">15</text>
<text x="423.1" y="270.8" text-anchor="middle">20</text>
<text x="365.7" y="281.8" text-anchor="middle" font-size="7">Time (d)</text>
<text transform="translate(278.8 216.5) rotate(-90)" text-anchor="middle" font-size="7.3">Mean tumor volume (mm<tspan font-size="4.4" dy="-2.8">3</tspan><tspan dy="2.8">)</tspan></text>
</g>
<text x="271.7" y="157.5" class="L" font-size="12.4">D</text>
<g stroke="#000" stroke-width="1.0" fill="none">
<polyline points="304.9,249.8 334.45,243.48 352.18,237.82 375.82,235.99 393.55,233.98 417.19,238.01"/>
<path stroke-width="0.85" d="M304.9 248.8V250.8M303.3 248.8H306.5M303.3 250.8H306.5"/>
<path stroke-width="0.85" d="M334.45 241.98V244.98M332.85 241.98H336.05M332.85 244.98H336.05"/>
<path stroke-width="0.85" d="M352.18 235.82V239.82M350.58 235.82H353.78M350.58 239.82H353.78"/>
<path stroke-width="0.85" d="M375.82 233.49V238.49M374.22 233.49H377.42M374.22 238.49H377.42"/>
<path stroke-width="0.85" d="M393.55 230.98V236.98M391.95 230.98H395.15M391.95 236.98H395.15"/>
<path stroke-width="0.85" d="M417.19 236.01V240.01M415.59 236.01H418.79M415.59 240.01H418.79"/>
</g>
<circle cx="304.9" cy="249.8" r="1.5" fill="#fff" stroke="#000" stroke-width="1.25"/>
<circle cx="334.45" cy="243.48" r="1.5" fill="#fff" stroke="#000" stroke-width="1.25"/>
<circle cx="352.18" cy="237.82" r="1.5" fill="#fff" stroke="#000" stroke-width="1.25"/>
<circle cx="375.82" cy="235.99" r="1.5" fill="#fff" stroke="#000" stroke-width="1.25"/>
<circle cx="393.55" cy="233.98" r="1.5" fill="#fff" stroke="#000" stroke-width="1.25"/>
<circle cx="417.19" cy="238.01" r="1.5" fill="#fff" stroke="#000" stroke-width="1.25"/>
<g stroke="#000" stroke-width="1.0" fill="none">
<polyline points="304.9,249.8 334.45,239.74 352.18,230.52 375.82,219.75 393.55,207.26 417.19,190.5"/>
<path stroke-width="0.85" d="M304.9 248.8V250.8M303.3 248.8H306.5M303.3 250.8H306.5"/>
<path stroke-width="0.85" d="M334.45 237.74V241.74M332.85 237.74H336.05M332.85 241.74H336.05"/>
<path stroke-width="0.85" d="M352.18 227.52V233.52M350.58 227.52H353.78M350.58 233.52H353.78"/>
<path stroke-width="0.85" d="M375.82 214.75V224.75M374.22 214.75H377.42M374.22 224.75H377.42"/>
<path stroke-width="0.85" d="M393.55 200.26V214.26M391.95 200.26H395.15M391.95 214.26H395.15"/>
<path stroke-width="0.85" d="M417.19 179.5V201.5M415.59 179.5H418.79M415.59 201.5H418.79"/>
</g>
<circle cx="304.9" cy="249.8" r="1.3" fill="#000"/>
<circle cx="334.45" cy="239.74" r="1.3" fill="#000"/>
<circle cx="352.18" cy="230.52" r="1.3" fill="#000"/>
<circle cx="375.82" cy="219.75" r="1.3" fill="#000"/>
<circle cx="393.55" cy="207.26" r="1.3" fill="#000"/>
<circle cx="417.19" cy="190.5" r="1.3" fill="#000"/>
<g stroke="#000" stroke-width="1.0" fill="none">
<polyline points="304.9,249.8 334.45,240.91 352.18,231.78 375.82,219.85 393.55,207.68 417.19,196.49"/>
<path stroke-width="0.85" d="M304.9 248.8V250.8M303.3 248.8H306.5M303.3 250.8H306.5"/>
<path stroke-width="0.85" d="M334.45 238.91V242.91M332.85 238.91H336.05M332.85 242.91H336.05"/>
<path stroke-width="0.85" d="M352.18 228.78V234.78M350.58 228.78H353.78M350.58 234.78H353.78"/>
<path stroke-width="0.85" d="M375.82 214.85V224.85M374.22 214.85H377.42M374.22 224.85H377.42"/>
<path stroke-width="0.85" d="M393.55 200.68V214.68M391.95 200.68H395.15M391.95 214.68H395.15"/>
<path stroke-width="0.85" d="M417.19 187.49V205.49M415.59 187.49H418.79M415.59 205.49H418.79"/>
</g>
<path d="M303.46 248.84L306.34 248.84L304.9 251.16Z" fill="#000"/>
<path d="M333.01 239.95L335.89 239.95L334.45 242.27Z" fill="#000"/>
<path d="M350.74 230.82L353.62 230.82L352.18 233.14Z" fill="#000"/>
<path d="M374.38 218.89L377.26 218.89L375.82 221.21Z" fill="#000"/>
<path d="M392.11 206.72L394.99 206.72L393.55 209.04Z" fill="#000"/>
<path d="M415.75 195.53L418.63 195.53L417.19 197.85Z" fill="#000"/>
<g stroke="#000" stroke-width="1.0" fill="none">
<polyline points="304.9,249.8 334.45,242.27 352.18,234.26 375.82,224.25 393.55,210.49 417.19,206.74"/>
<path stroke-width="0.85" d="M304.9 248.8V250.8M303.3 248.8H306.5M303.3 250.8H306.5"/>
<path stroke-width="0.85" d="M334.45 240.27V244.27M332.85 240.27H336.05M332.85 244.27H336.05"/>
<path stroke-width="0.85" d="M352.18 230.26V238.26M350.58 230.26H353.78M350.58 238.26H353.78"/>
<path stroke-width="0.85" d="M375.82 217.25V231.25M374.22 217.25H377.42M374.22 231.25H377.42"/>
<path stroke-width="0.85" d="M393.55 202.49V218.49M391.95 202.49H395.15M391.95 218.49H395.15"/>
<path stroke-width="0.85" d="M417.19 195.24V218.24M415.59 195.24H418.79M415.59 218.24H418.79"/>
</g>
<path d="M303.36 250.85L306.44 250.85L304.9 248.33Z" fill="#000"/>
<path d="M332.91 243.32L335.99 243.32L334.45 240.8Z" fill="#000"/>
<path d="M350.64 235.31L353.72 235.31L352.18 232.79Z" fill="#000"/>
<path d="M374.28 225.3L377.36 225.3L375.82 222.78Z" fill="#000"/>
<path d="M392.01 211.54L395.09 211.54L393.55 209.02Z" fill="#000"/>
<path d="M415.65 207.79L418.73 207.79L417.19 205.27Z" fill="#000"/>
<g stroke="#000" stroke-width="1.0" fill="none">
<polyline points="304.9,249.8 334.45,245.59 352.18,242.78 375.82,242.78 393.55,244.23 417.19,243.01"/>
<path stroke-width="0.85" d="M304.9 248.8V250.8M303.3 248.8H306.5M303.3 250.8H306.5"/>
<path stroke-width="0.85" d="M334.45 244.09V247.09M332.85 244.09H336.05M332.85 247.09H336.05"/>
<path stroke-width="0.85" d="M352.18 240.78V244.78M350.58 240.78H353.78M350.58 244.78H353.78"/>
<path stroke-width="0.85" d="M375.82 240.78V244.78M374.22 240.78H377.42M374.22 244.78H377.42"/>
<path stroke-width="0.85" d="M393.55 240.23V248.23M391.95 240.23H395.15M391.95 248.23H395.15"/>
<path stroke-width="0.85" d="M417.19 241.01V245.01M415.59 241.01H418.79M415.59 245.01H418.79"/>
</g>
<circle cx="304.9" cy="249.8" r="1.5" fill="#000"/>
<circle cx="334.45" cy="245.59" r="1.5" fill="#000"/>
<circle cx="352.18" cy="242.78" r="1.5" fill="#000"/>
<circle cx="375.82" cy="242.78" r="1.5" fill="#000"/>
<circle cx="393.55" cy="244.23" r="1.5" fill="#000"/>
<circle cx="417.19" cy="243.01" r="1.5" fill="#000"/>
<g stroke="#000" stroke-width="1.0" fill="none">
<polyline points="304.9,249.8 334.45,246.52 352.18,244.65 375.82,245.26 393.55,246.52 417.19,247.27"/>
<path stroke-width="0.85" d="M304.9 248.8V250.8M303.3 248.8H306.5M303.3 250.8H306.5"/>
<path stroke-width="0.85" d="M334.45 245.52V247.52M332.85 245.52H336.05M332.85 247.52H336.05"/>
<path stroke-width="0.85" d="M352.18 243.15V246.15M350.58 243.15H353.78M350.58 246.15H353.78"/>
<path stroke-width="0.85" d="M375.82 243.76V246.76M374.22 243.76H377.42M374.22 246.76H377.42"/>
<path stroke-width="0.85" d="M393.55 245.02V248.02M391.95 245.02H395.15M391.95 248.02H395.15"/>
<path stroke-width="0.85" d="M417.19 245.77V248.77M415.59 245.77H418.79M415.59 248.77H418.79"/>
</g>
<rect x="303.45" y="248.35" width="2.9" height="2.9" fill="#000"/>
<rect x="333" y="245.07" width="2.9" height="2.9" fill="#000"/>
<rect x="350.73" y="243.2" width="2.9" height="2.9" fill="#000"/>
<rect x="374.37" y="243.81" width="2.9" height="2.9" fill="#000"/>
<rect x="392.1" y="245.07" width="2.9" height="2.9" fill="#000"/>
<rect x="415.74" y="245.82" width="2.9" height="2.9" fill="#000"/>
<path d="M443.5 176.8H451.5" stroke="#000" stroke-width="1.0"/>
<circle cx="447.5" cy="176.8" r="1" fill="#000"/>
<text x="454.2" y="179" font-size="6.22">Vehicle</text>
<path d="M443.5 185.8H451.5" stroke="#000" stroke-width="1.0"/>
<rect x="446.05" y="184.35" width="2.9" height="2.9" fill="#000"/>
<text x="454.2" y="188" font-size="6.22">PEN-221 2.0 mg/kg</text>
<path d="M443.5 194.8H451.5" stroke="#000" stroke-width="1.0"/>
<path d="M447.5 193L449.3 194.8L447.5 196.6L445.7 194.8Z" fill="#000"/>
<text x="454.2" y="197" font-size="6.22">PEN-221 1.0 mg/kg</text>
<path d="M443.5 203H451.5" stroke="#000" stroke-width="1.0"/>
<path d="M445.7 201.8L449.3 201.8L447.5 204.7Z" fill="#000"/>
<text x="454.2" y="205.2" font-size="6.22">PEN-221 0.5 mg/kg</text>
<path d="M443.5 212H451.5" stroke="#000" stroke-width="1.0"/>
<circle cx="447.5" cy="212" r="1.5" fill="#fff" stroke="#000" stroke-width="1.25"/>
<text x="454.2" y="214.2" font-size="6.22">Cisplatin 5.0 mg/kg</text>
<path d="M443.5 220.7H451.5" stroke="#000" stroke-width="1.0"/>
<path d="M445.3 222.2L449.7 222.2L447.5 218.6Z" fill="#000"/>
<text x="454.2" y="222.9" font-size="6.22">BT-984 2.0 mg/kg</text>
<text x="419.8" y="192.6" font-size="6">NS</text>
<text x="419.8" y="209.6" font-size="6">NS</text>
<text x="420" y="238.1" font-size="5.5">*</text>
<text x="420.2" y="244.2" font-size="5.5">***</text>
<text x="420.2" y="250.9" font-size="5.5">***</text>
</svg></body></html>
